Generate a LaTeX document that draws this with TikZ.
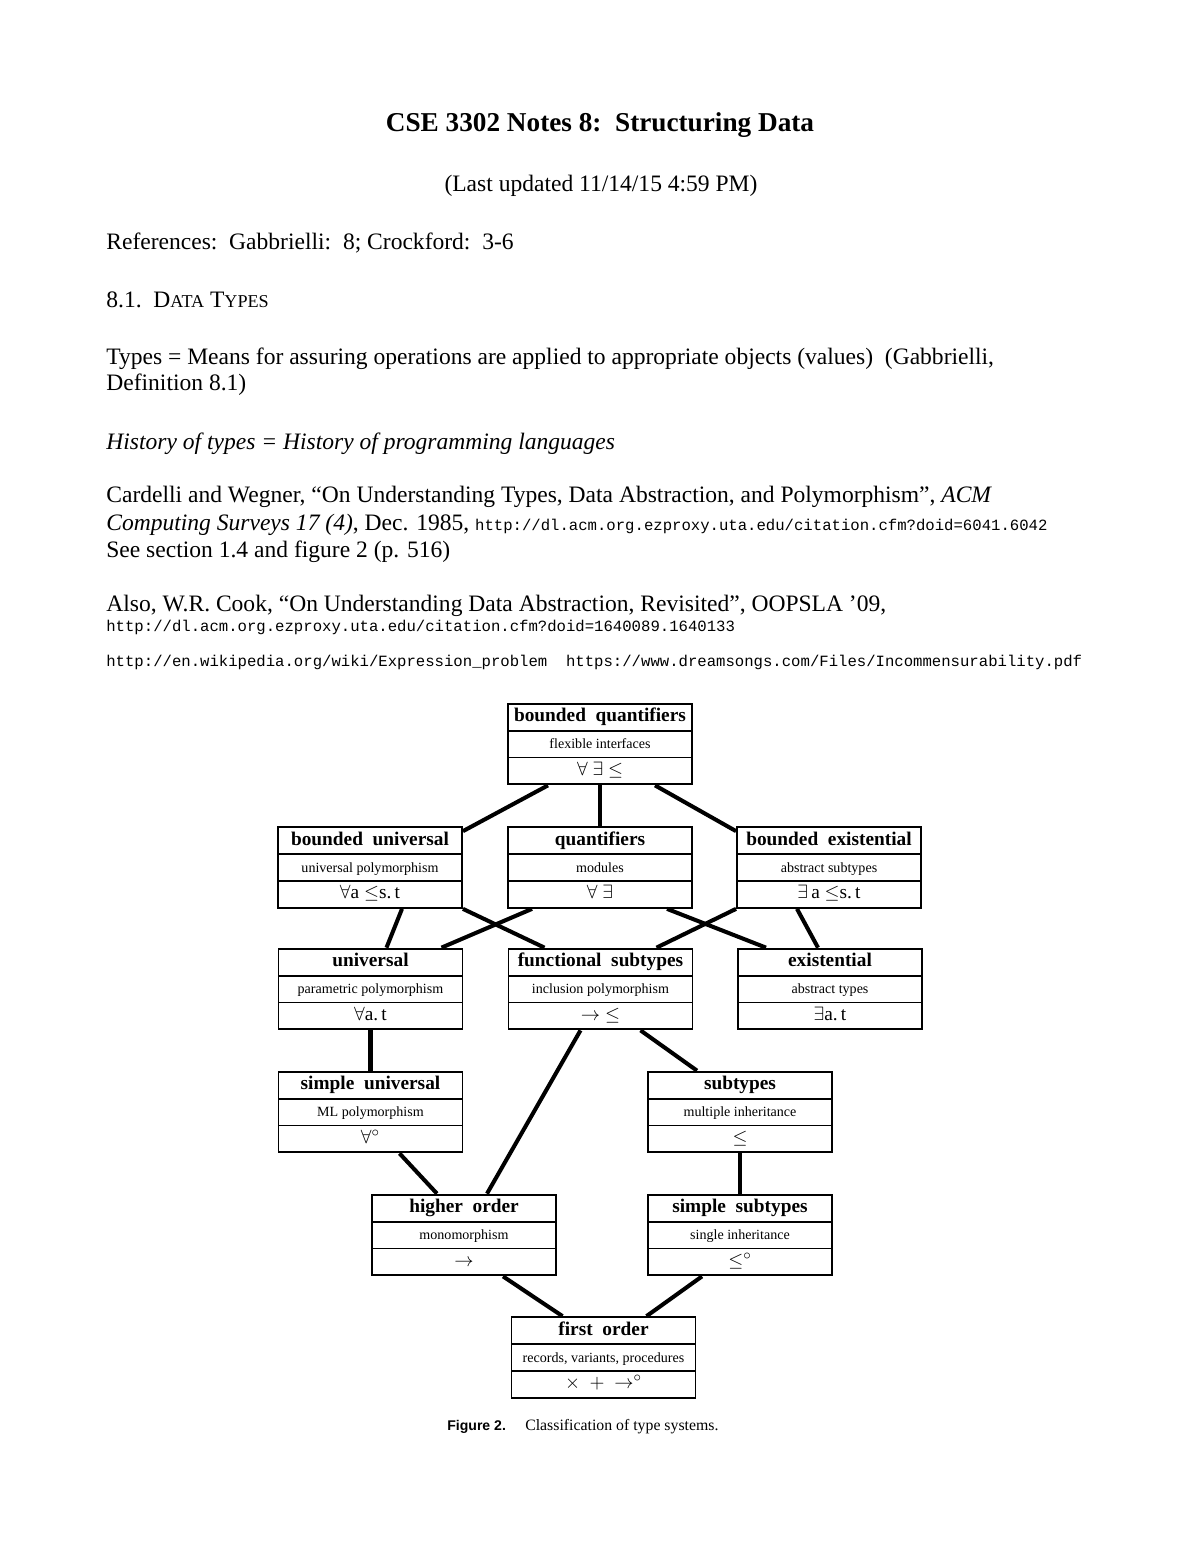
\documentclass[tikz,border=0pt]{standalone}
\usepackage{fontspec}
\setmainfont{Liberation Serif}
\setsansfont{Liberation Sans}
\setmonofont{Liberation Mono}
\usetikzlibrary{shapes.multipart,calc}

\begin{document}
\begin{tikzpicture}[x=0.02cm,y=-0.02cm,
    body/.style={anchor=base west,inner sep=0pt,font=\fontsize{13.4}{15}\selectfont},
    url/.style={anchor=base west,inner sep=0pt,font=\fontsize{8.9}{10}\selectfont\ttfamily},
    typebox/.style={draw,line width=1.1pt,rectangle split,rectangle split parts=3,
      text width=3.5cm,align=flush center,inner xsep=0.09cm,inner ysep=0pt,fill=white},
    link/.style={line width=2.3pt}]
  \fill[white] (0,0) rectangle (1200,1553);
  \useasboundingbox (0,0) rectangle (1200,1553);

  % page text
  \node[anchor=base,inner sep=0pt,font=\fontsize{15.5}{18}\selectfont\bfseries] (title) at (600,131)
    {CSE 3302 Notes 8:\ \ Structuring Data};
  \node[body,anchor=base] (upd) at (601,191) {(Last updated 11/14/15 4:59 PM)};
  \node[body] (refs) at (106,249) {References:\ \ Gabbrielli:\ \ 8; Crockford:\ \ 3-6};
  \node[body] (sec) at (106,307)
    {8.1.\ \ D{\fontsize{10.3}{12}\selectfont ATA} T{\fontsize{10.3}{12}\selectfont YPES}};
  \node[body] (def1) at (106,364)
    {Types = Means for assuring operations are applied to appropriate objects (values)\ \ (Gabbrielli,};
  \node[body] (def2) at (106,390) {Definition 8.1)};
  \node[body,font=\fontsize{13.4}{15}\selectfont\itshape] (hist) at (106,449)
    {History of types = History of programming languages};
  \node[body] (cw1) at (106,502)
    {Cardelli and Wegner, ``On Understanding Types, Data Abstraction, and Polymorphism'', \textit{ACM}};
  \node[body] (cw2) at (106,530)
    {\textit{Computing Surveys 17 (4)}, Dec. 1985, {\ttfamily\fontsize{8.9}{10}\selectfont http://dl.acm.org.ezproxy.uta.edu/citation.cfm?doid=6041.6042}};
  \node[body] (cw3) at (106,557) {See section 1.4 and figure 2 (p. 516)};
  \node[body] (cook1) at (106,611)
    {Also, W.R. Cook, ``On Understanding Data Abstraction, Revisited'', OOPSLA '09,};
  \node[url] (cook2) at (106,631) {http://dl.acm.org.ezproxy.uta.edu/citation.cfm?doid=1640089.1640133};
  \node[url] (links) at (106,666)
    {http://en.wikipedia.org/wiki/Expression\_problem\ \ https://www.dreamsongs.com/Files/Incommensurability.pdf};

  % type system boxes
  \foreach \nm/\px/\py/\ttl/\sub/\sym in {
      bq/600/744/{bounded\ \ quantifiers}/{flexible interfaces}/{${\forall}\ {\exists}\ {\leq}$},
      bu/370/867.5/{bounded\ \ universal}/{universal polymorphism}/{$\forall$a ${\leq}$s.\,t},
      qu/600/867.5/{quantifiers}/{modules}/{${\forall}\ {\exists}$},
      be/829/867.5/{bounded\ \ existential}/{abstract subtypes}/{$\exists$\,a ${\leq}$s.\,t},
      un/370.5/989/{universal}/{parametric polymorphism}/{$\forall$a.\,t},
      fs/600.5/989/{functional\ \ subtypes}/{inclusion polymorphism}/{${\rightarrow}\ {\leq}$},
      ex/830/989/{existential}/{abstract types}/{$\exists$a.\,t},
      su/370.5/1112/{simple\ \ universal}/{ML polymorphism}/{$\forall^{\circ}$},
      st/740/1112/{subtypes}/{multiple inheritance}/{$\leq$},
      ho/464/1235/{higher\ \ order}/{monomorphism}/{$\rightarrow$},
      ss/740/1235/{simple\ \ subtypes}/{single inheritance}/{${\leq}^{\circ}$},
      fo/603.5/1357.5/{first\ \ order}/{records, variants, procedures}/{${\times}\ \ {+}\ \ {\rightarrow}^{\circ}$}}{
    \node[typebox] (\nm) at (\px,\py)
      {\rule[-0.16cm]{0pt}{0.5cm}\fontsize{11}{12}\selectfont\bfseries \ttl
       \nodepart{two}\rule[-0.16cm]{0pt}{0.5cm}\fontsize{8}{9}\selectfont \sub
       \nodepart{three}\rule[-0.16cm]{0pt}{0.5cm}\fontsize{11}{13}\selectfont \sym};
  }

  % connectors
  \draw[link] ($(bq.south)+(-52,0)$) -- ($(bu.north east)+(0,5)$);
  \draw[link] (bq.south) -- (qu.north);
  \draw[link] ($(bq.south)+(55,0)$) -- ($(be.north west)+(0,5)$);
  \draw[link] ($(bu.south)+(32,0)$) -- ($(un.north)+(16,0)$);
  \draw[link] (bu.south east) -- ($(fs.north)+(-56,0)$);
  \draw[link] ($(qu.south)+(-68,0)$) -- ($(un.north)+(71,0)$);
  \draw[link] ($(qu.south)+(67,0)$) -- ($(ex.north)+(-64,0)$);
  \draw[link] (be.south west) -- ($(fs.north)+(56,0)$);
  \draw[link] ($(be.south)+(-32,0)$) -- ($(ex.north)+(-12,0)$);
  \draw[link] (un.south) -- (su.north);
  \draw[link] ($(fs.south)+(-20,0)$) -- ($(ho.north)+(23,0)$);
  \draw[link] ($(fs.south)+(40,0)$) -- ($(st.north)+(-43,0)$);
  \draw[link] ($(su.south)+(29,0)$) -- ($(ho.north)+(-27,0)$);
  \draw[link] (st.south) -- (ss.north);
  \draw[link] ($(ho.south)+(39,0)$) -- ($(fo.north)+(-41,0)$);
  \draw[link] ($(ss.south)+(-38,0)$) -- ($(fo.north)+(43,0)$);

  \node[anchor=base west,inner sep=0pt] (cap) at (447,1430)
    {{\sffamily\bfseries\fontsize{8}{10}\selectfont Figure 2.}\hspace{1.1em}{\fontsize{9}{11}\selectfont Classification of type systems.}};
\end{tikzpicture}
\end{document}
